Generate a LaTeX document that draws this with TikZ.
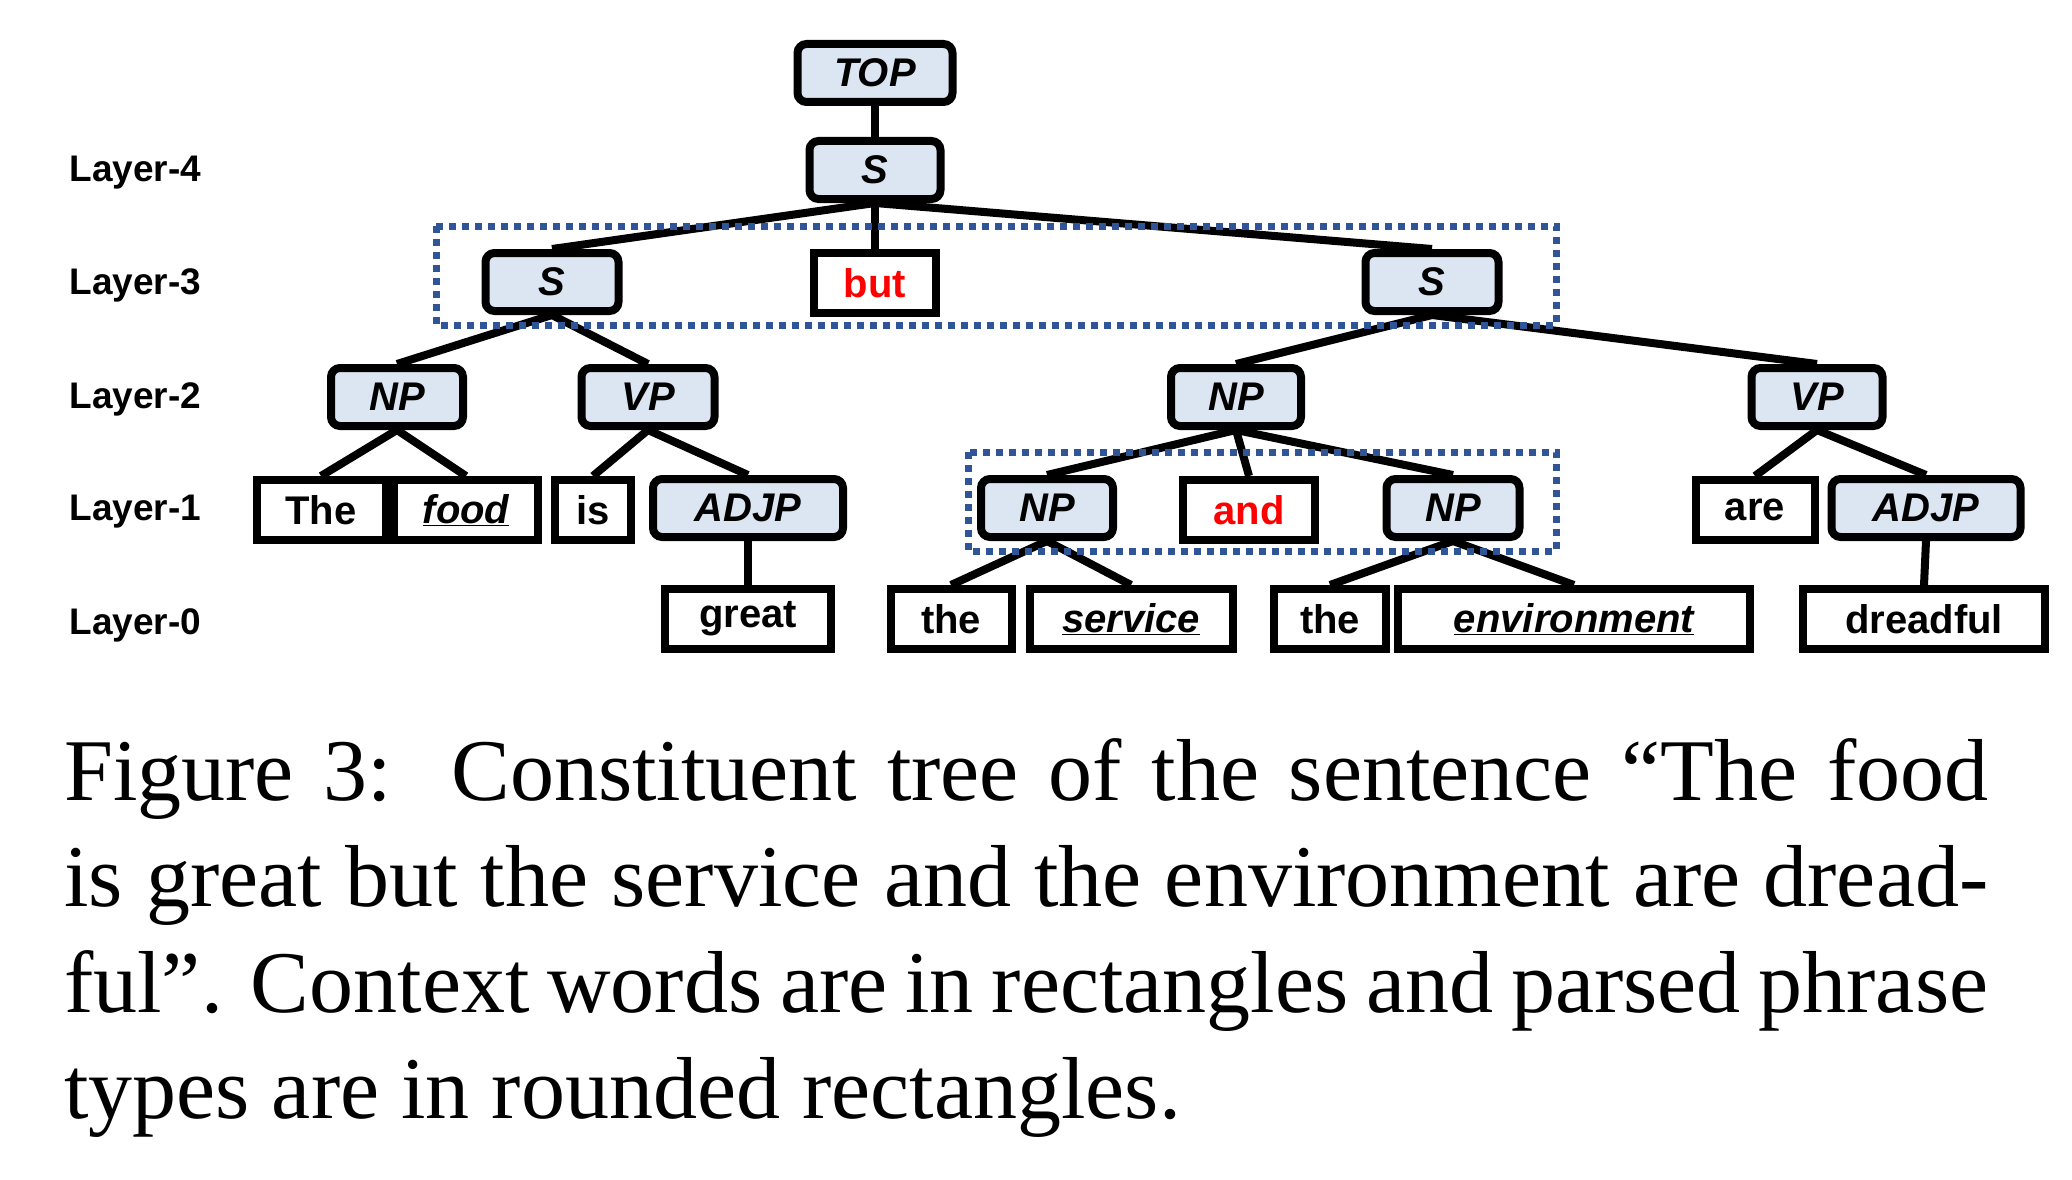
\documentclass[tikz,border=0pt]{standalone}
\usepackage{fontspec}
\setmainfont{Liberation Serif}
\newfontfamily\ar{Liberation Sans}
\usetikzlibrary{backgrounds}
\definecolor{pfill}{HTML}{DCE6F2}
\definecolor{dblue}{HTML}{2F5597}
\begin{document}
\begin{tikzpicture}[x=1pt,y=-1pt,
 base/.style={draw=black,line width=8pt,inner sep=0pt,minimum height=#1,font=\ar\fontsize{40}{44}\selectfont\bfseries},
 phr/.style={base=58pt,fill=pfill,rounded corners=9pt,font=\ar\fontsize{40}{44}\selectfont\bfseries\itshape},
 wrd/.style={base=60pt,fill=white},
 edge/.style={line width=8pt},
 grp/.style={draw=dblue,line width=7pt,dash pattern=on 7pt off 6pt},
 lay/.style={anchor=west,font=\ar\fontsize{37}{40}\selectfont\bfseries}]
\useasboundingbox (0,0) rectangle (2072,1180);
% layer labels
\node[lay] (l4) at (66,173) {Layer-4};
\node[lay] (l3) at (66,285) {Layer-3};
\node[lay] (l2) at (66,399) {Layer-2};
\node[lay] (l1) at (66,512) {Layer-1};
\node[lay] (l0) at (66,625) {Layer-0};
% nodes
\node[phr,minimum width=155pt] (top) at (875,73) {TOP};
\node[phr,minimum width=131pt] (s4) at (875,170) {S};
\node[phr,minimum width=133pt] (s3l) at (552,282) {S};
\node[wrd,minimum width=122pt,text=red] (but) at (875,283) {but};
\node[phr,minimum width=133pt] (s3r) at (1432,282) {S};
\node[phr,minimum width=132pt] (np2l) at (397,397) {NP};
\node[phr,minimum width=133pt] (vp2l) at (648,397) {VP};
\node[phr,minimum width=130pt] (np2m) at (1236,397) {NP};
\node[phr,minimum width=131pt] (vp2r) at (1817,397) {VP};
\node[wrd,minimum width=129pt] (the1) at (321,510) {The};
\node[wrd,minimum width=144pt,font=\ar\fontsize{40}{44}\selectfont\bfseries\itshape] (food) at (466,510) {\underline{food}};
\node[wrd,minimum width=76pt] (is) at (593,510) {is};
\node[phr,minimum width=190pt] (adjp1) at (748,508) {ADJP};
\node[phr,minimum width=132pt] (np1a) at (1047,508) {NP};
\node[wrd,minimum width=132pt,text=red] (and) at (1249,510) {and};
\node[phr,minimum width=133pt] (np1b) at (1453,508) {NP};
\node[wrd,minimum width=119pt] (are) at (1755,510) {are};
\node[phr,minimum width=189pt] (adjp2) at (1926,508) {ADJP};
\node[wrd,minimum width=166pt] (great) at (748,619) {great};
\node[wrd,minimum width=121pt] (the2) at (951,619) {the};
\node[wrd,minimum width=203pt,font=\ar\fontsize{40}{44}\selectfont\bfseries\itshape] (service) at (1131,619) {\underline{service}};
\node[wrd,minimum width=112pt] (the3) at (1330,619) {the};
\node[wrd,minimum width=352pt,font=\ar\fontsize{40}{44}\selectfont\bfseries\itshape] (env) at (1574,619) {\underline{environment}};
\node[wrd,minimum width=242pt] (dread) at (1924,619) {dreadful};
% group boxes
\coordinate (g1a) at (436,226); \coordinate (g1b) at (1556,325);
\coordinate (g2a) at (968,452); \coordinate (g2b) at (1556,551);
\draw[grp] (g1a) rectangle (g1b);
\draw[grp] (g2a) rectangle (g2b);
\begin{scope}[on background layer]
\draw[edge] (top.south) -- (s4.north);
\draw[edge] (s4.south) -- (s3l.north);
\draw[edge] (s4.south) -- (but.north);
\draw[edge] (s4.south) -- (s3r.north);
\draw[edge] (s3l.south) -- (np2l.north);
\draw[edge] (s3l.south) -- (vp2l.north);
\draw[edge] (s3r.south) -- (np2m.north);
\draw[edge] (s3r.south) -- (vp2r.north);
\draw[edge] (np2l.south) -- (the1.north);
\draw[edge] (np2l.south) -- (food.north);
\draw[edge] (vp2l.south) -- (is.north);
\draw[edge] (vp2l.south) -- (adjp1.north);
\draw[edge] (np2m.south) -- (np1a.north);
\draw[edge] (np2m.south) -- (and.north);
\draw[edge] (np2m.south) -- (np1b.north);
\draw[edge] (vp2r.south) -- (are.north);
\draw[edge] (vp2r.south) -- (adjp2.north);
\draw[edge] (adjp1.south) -- (great.north);
\draw[edge] (np1a.south) -- (the2.north);
\draw[edge] (np1a.south) -- (service.north);
\draw[edge] (np1b.south) -- (the3.north);
\draw[edge] (np1b.south) -- (env.north);
\draw[edge] (adjp2.south) -- (dread.north);
\end{scope}
% caption
\node[anchor=north west,inner sep=0pt,text width=1924pt,align=justify,font=\fontsize{88}{106}\selectfont] (cap) at (64,738)
{Figure 3:\ \ Constituent tree of the sentence “The food\linebreak is great but the service and the environment are dread-\linebreak ful”. Context words are in rectangles and parsed phrase\linebreak types are in rounded rectangles.};
\end{tikzpicture}
\end{document}
